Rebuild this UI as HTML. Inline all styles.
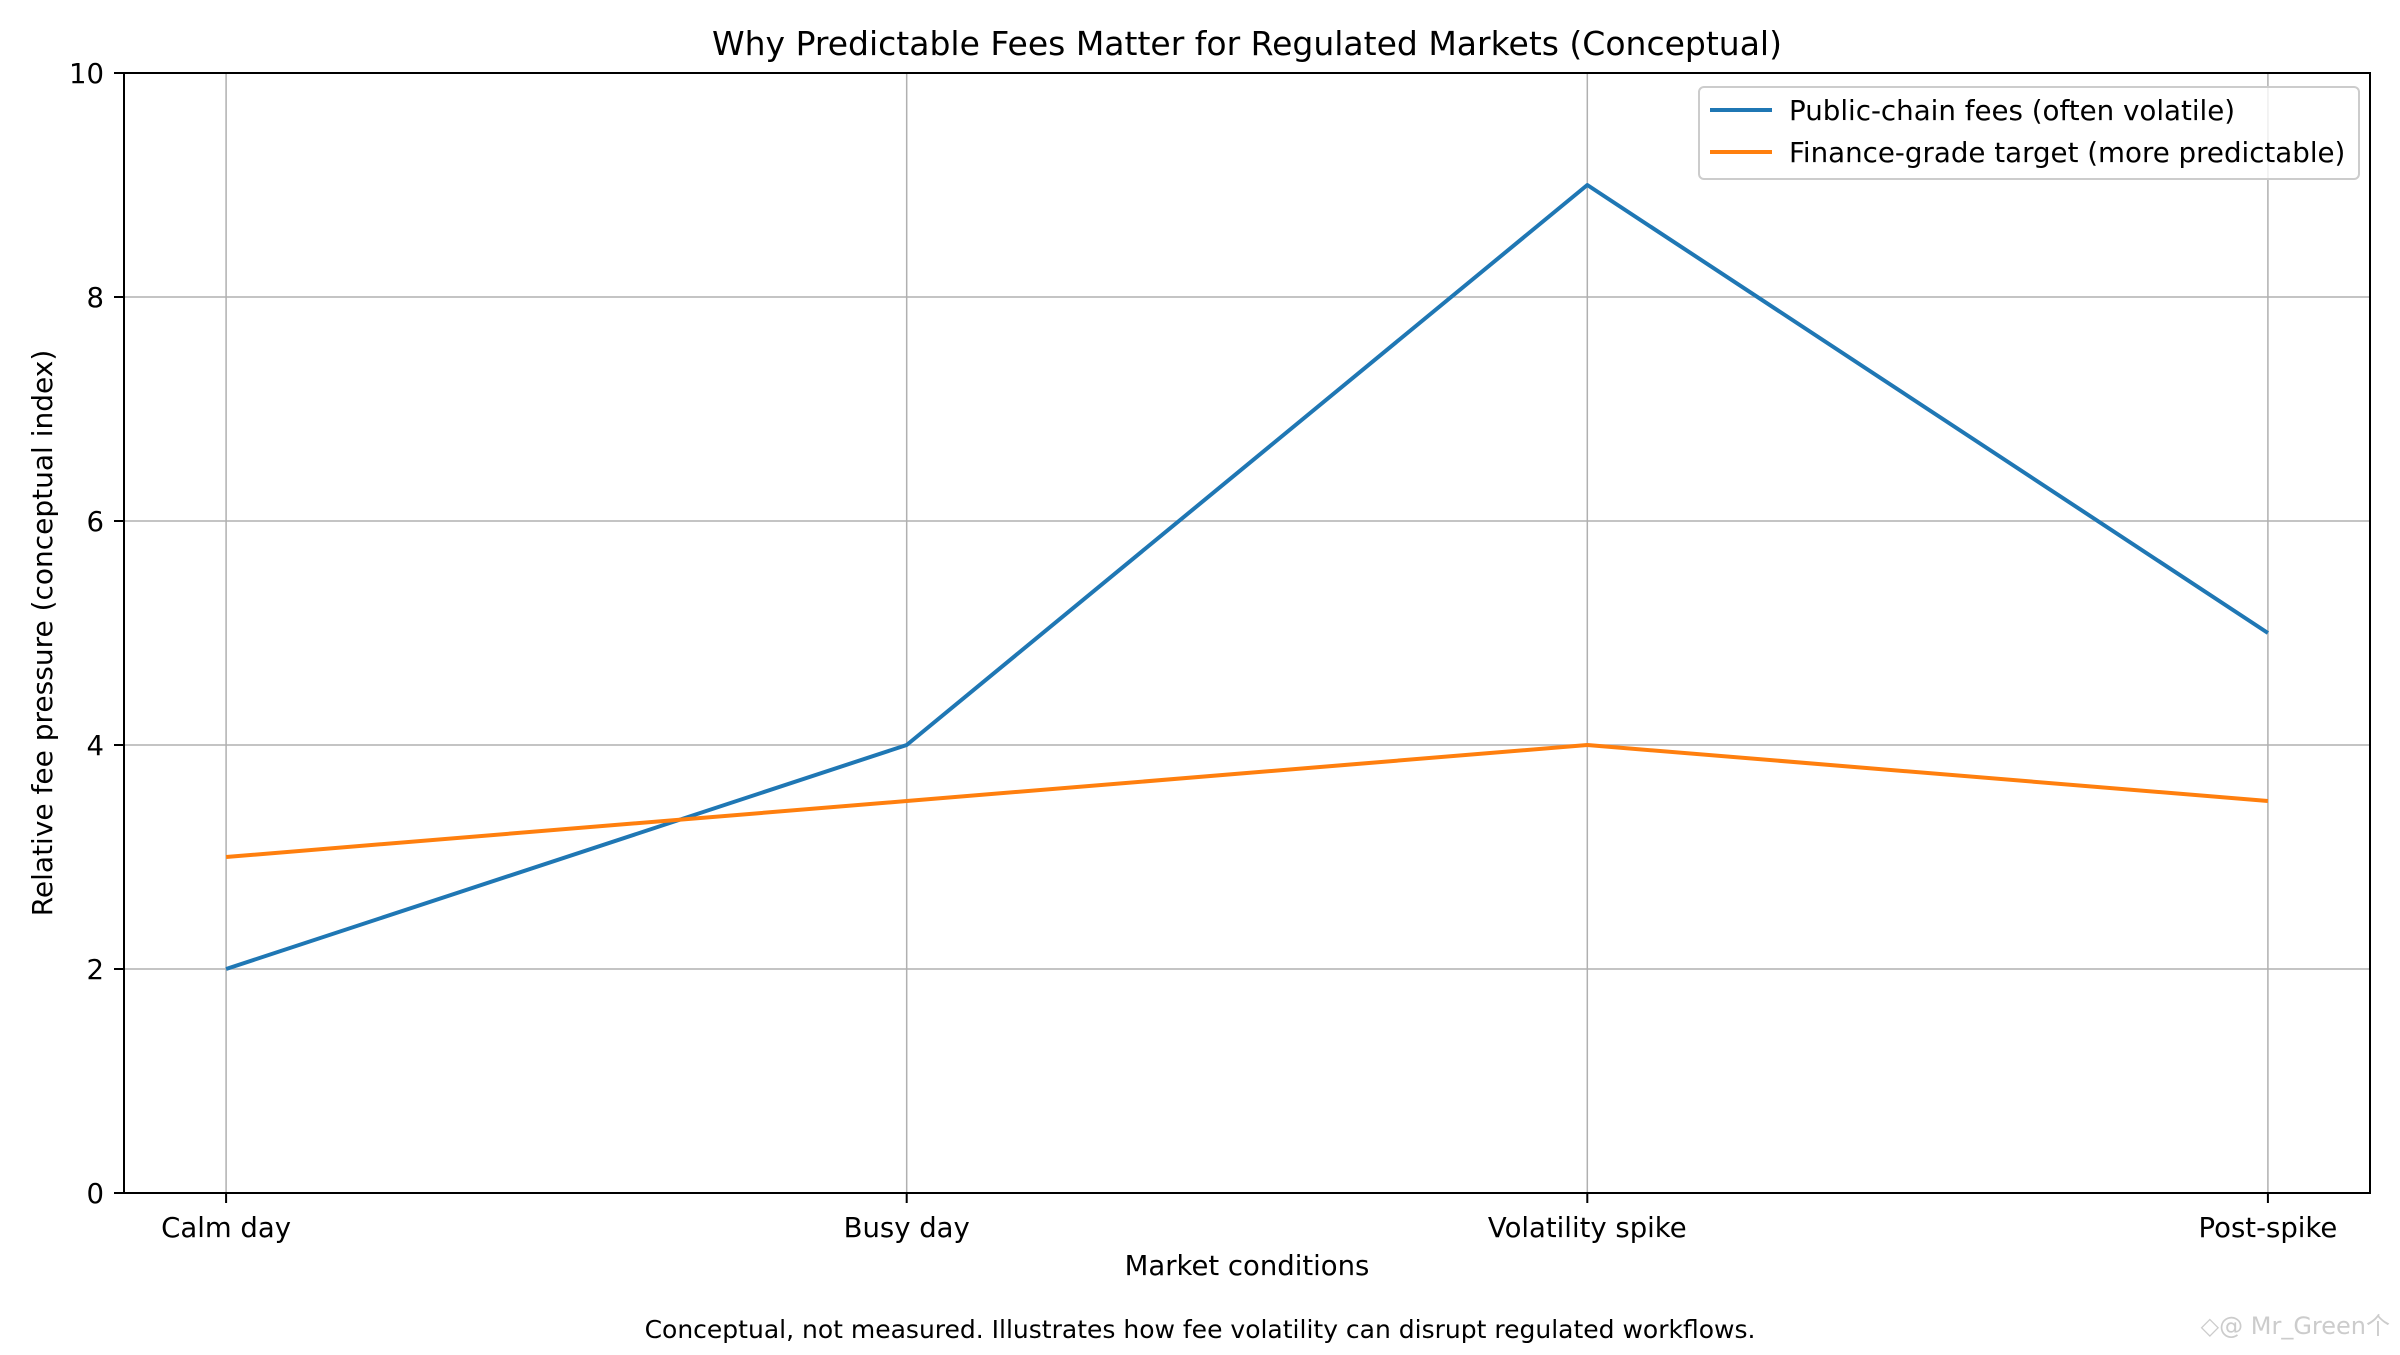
<!DOCTYPE html>
<html><head><meta charset="utf-8"><style>
body{margin:0;background:#fff;}
svg text{font-family:"DejaVu Sans","Liberation Sans",sans-serif;fill:#000;}
</style></head><body>
<svg id="chart" width="2400" height="1350" viewBox="0 0 2400 1350" xmlns="http://www.w3.org/2000/svg">
<rect width="2400" height="1350" fill="#fff"/>
<text x="1247" y="55" font-size="33" text-anchor="middle">Why Predictable Fees Matter for Regulated Markets (Conceptual)</text>
<g id="grid"></g>
<g id="series"></g>
<rect x="124" y="73" width="2246" height="1120" fill="none" stroke="#000" stroke-width="2"/>
<g id="ticks"></g>
<text x="1247" y="1275" font-size="27.5" text-anchor="middle">Market conditions</text>
<text x="52" y="633" font-size="28" text-anchor="middle" transform="rotate(-90 52 633)">Relative fee pressure (conceptual index)</text>
<text x="1200" y="1338" font-size="25" text-anchor="middle">Conceptual, not measured. Illustrates how fee volatility can disrupt regulated workflows.</text>
<text x="2390" y="1334" font-size="24" text-anchor="end" fill="#ccc" style="fill:#ccc">◇@ Mr_Green个</text>
<g>
<rect x="1699" y="87" width="660" height="92" rx="5" fill="#fff" fill-opacity="0.8" stroke="#ccc" stroke-width="2"/>
<line x1="1710" y1="110" x2="1772" y2="110" stroke="#1f77b4" stroke-width="4"/>
<text x="1789" y="120" font-size="27.7">Public-chain fees (often volatile)</text>
<line x1="1710" y1="152" x2="1772" y2="152" stroke="#ff7f0e" stroke-width="4"/>
<text x="1789" y="162" font-size="27.7">Finance-grade target (more predictable)</text>
</g>
</svg>
<script>
const categories=["Calm day","Busy day","Volatility spike","Post-spike"];
const publicFees=[2,4,9,5];
const financeTarget=[3,3.5,4,3.5];
const yTicks=[0,2,4,6,8,10];
const NS="http://www.w3.org/2000/svg";
const L=124,R=2370,T=73,B=1193;
const xs=i=>L+(i+0.15)/3.3*(R-L);
const ys=v=>B-v/10*(B-T);
const grid=document.getElementById('grid'),ticks=document.getElementById('ticks'),ser=document.getElementById('series');
function mk(tag,attrs,parent){const e=document.createElementNS(NS,tag);for(const k in attrs)e.setAttribute(k,attrs[k]);parent.appendChild(e);return e;}
categories.forEach((c,i)=>{
  const g=mk('line',{x1:xs(i),x2:xs(i),y1:T,y2:B,stroke:'#b0b0b0','stroke-width':1.5},grid);
  
  
  const t=mk('line',{x1:xs(i),x2:xs(i),y1:B,y2:B+10,stroke:'#000','stroke-width':2},ticks);
  
  
  const l=mk('text',{x:xs(i),y:B+44,'font-size':27.5,'text-anchor':'middle'},ticks);
  l.textContent=c;
  
  
});
yTicks.forEach(v=>{
  const g=mk('line',{x1:L,x2:R,y1:ys(v),y2:ys(v),stroke:'#b0b0b0','stroke-width':1.5},grid);
  
  
  const t=mk('line',{x1:L-10,x2:L,y1:ys(v),y2:ys(v),stroke:'#000','stroke-width':2},ticks);
  
  
  const l=mk('text',{x:L-20,y:ys(v)+10,'font-size':27.5,'text-anchor':'end'},ticks);
  l.textContent=v;
  
  
});
function line(vals,color,name){
  const p=mk('polyline',{points:vals.map((v,i)=>xs(i)+','+ys(v)).join(' '),fill:'none',stroke:color,'stroke-width':4,'stroke-linejoin':'round'},ser);
  
  
}
line(publicFees,'#1f77b4','public-chain-fees-line');
line(financeTarget,'#ff7f0e','finance-grade-target-line');
</script>
</body></html>
